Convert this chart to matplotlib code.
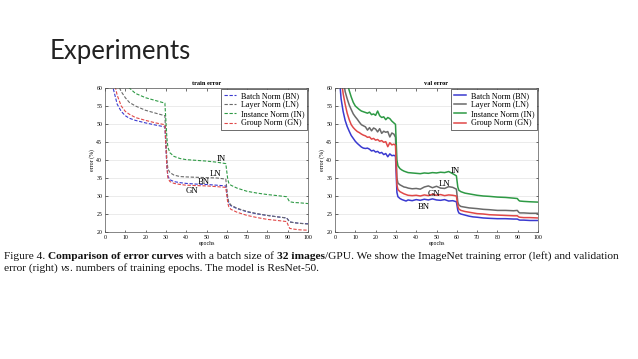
import matplotlib
matplotlib.use("Agg")
import matplotlib.pyplot as plt

# ---- data ----
ep_train = [2, 4, 6, 8, 10, 12, 15, 20, 25, 29.5, 30.5, 31, 32, 34, 37, 40, 45, 50, 55, 59.5,
            60.5, 61, 62, 65, 70, 75, 80, 85, 89.5, 90.5, 91, 93, 96, 100]
bn_train = [68, 60, 55.5, 53.5, 52.3, 51.6, 51, 50.3, 49.7, 49.2, 38, 35.5, 34.5, 34, 33.7, 33.5,
            33.3, 33.2, 33, 32.8, 29, 28, 27.3, 26.5, 25.6, 25, 24.6, 24.2, 23.9, 23.2, 22.8,
            22.6, 22.4, 22.3]
ln_train = [75, 66, 61.5, 59, 57.3, 56, 55, 53.8, 53, 52.3, 40, 37.5, 36.5, 35.8, 35.4, 35.3,
            35.2, 35.1, 35, 34.7, 29.5, 28.3, 27.5, 26.6, 25.7, 25.1, 24.6, 24.2, 23.9, 23.1,
            22.8, 22.6, 22.4, 22.2]
in_train = [80, 72, 67, 63.5, 61.3, 60, 58.5, 57.3, 56.5, 55.8, 46, 43.5, 42, 41, 40.4, 40.1,
            39.9, 39.7, 39.4, 39, 34.5, 33.6, 33, 32.2, 31.3, 30.8, 30.4, 30.1, 29.8, 28.8,
            28.4, 28.2, 28.1, 27.9]
gn_train = [70, 63, 58, 55, 53.5, 52.7, 51.8, 51, 50.3, 49.8, 38, 35, 34, 33.5, 33.2, 33,
            32.9, 32.8, 32.6, 32.4, 28, 27, 26.3, 25.5, 24.6, 24, 23.5, 23.2, 22.9, 21.5, 21,
            20.8, 20.6, 20.5]

ep_val = [1, 2, 3, 4, 5, 6, 7, 8, 9, 10, 11, 12, 13, 14, 15, 16, 17, 18, 19, 20, 21, 22, 23,
          24, 25, 26, 27, 28, 29, 29.8, 30.5, 31, 32, 33, 34, 35, 36, 38, 40, 42, 44, 46, 48,
          50, 52, 54, 56, 58, 59.8, 60.5, 61, 62, 64, 66, 68, 70, 73, 76, 80, 84, 88, 89.8,
          90.5, 91, 93, 96, 100]
bn_val = [75, 64, 57, 53.5, 51, 49.3, 48, 46.8, 46, 45.2, 44.6, 44.1, 43.6, 43.3, 43.2, 43.3,
          43, 42.5, 42.7, 42.2, 42.4, 41.9, 42.1, 41.5, 41.8, 40.9, 41.7, 41.2, 41.3, 41.1,
          31, 29.8, 29.3, 29, 28.8, 28.6, 28.9, 28.7, 29, 28.8, 29.1, 28.9, 29.2, 28.9, 28.8,
          29, 28.6, 28.7, 28.4, 26, 25.3, 25, 24.7, 24.4, 24.2, 24.1, 23.9, 23.8, 23.7, 23.7,
          23.6, 23.6, 23.4, 23.3, 23.3, 23.2, 23.2]
ln_val = [90, 78, 69, 63, 59, 57, 55.3, 54, 52.8, 52, 51.3, 50.5, 49.8, 49.5, 49.2, 48.3, 49,
          48.1, 48.9, 48.6, 47.8, 48.7, 47.4, 48, 47.7, 47.9, 46.4, 47.5, 47.2, 46.3, 35, 33.6,
          33.1, 32.8, 32.5, 32.4, 32.2, 32, 32.1, 31.9, 32.5, 32.8, 32.3, 32.7, 32.2, 32.1,
          32.6, 32.4, 31.9, 28.3, 27.5, 27.1, 26.9, 26.7, 26.6, 26.5, 26.3, 26.2, 26, 26,
          25.9, 26, 25.5, 25.3, 25.3, 25.2, 25.2]
in_val = [95, 85, 77, 70, 65, 61.5, 59.3, 57.5, 56, 55, 54.5, 54, 53.6, 53.4, 53.2, 53, 53.3,
          52.6, 52.8, 52.4, 53.6, 52.3, 51.8, 52, 51.2, 51.8, 51.5, 50.8, 50.3, 49.9, 40, 38.4,
          37.6, 37.2, 36.9, 36.7, 36.5, 36.4, 36.3, 36.2, 36.4, 36.3, 36.5, 36.4, 36.6, 36.5,
          36.8, 36.2, 35.6, 32.5, 31.6, 31.2, 30.8, 30.6, 30.4, 30.2, 30, 29.9, 29.7, 29.6,
          29.4, 29.3, 28.8, 28.6, 28.5, 28.4, 28.3]
gn_val = [85, 72, 63, 58.5, 55.5, 53, 51.2, 49.8, 49, 48.4, 47.9, 47.6, 47.2, 46.9, 46.7, 46.3,
          46.4, 45.8, 46, 45.5, 45.7, 45.2, 45.4, 44.9, 45.1, 43.7, 44.8, 44.2, 44.4, 44.1, 33,
          31.8, 31.2, 30.9, 30.6, 30.4, 30.2, 30.1, 30.2, 30, 30.3, 30.1, 30.5, 30.2, 30.4,
          30.1, 30.3, 30.2, 30, 27.2, 26.4, 26, 25.7, 25.5, 25.3, 25.1, 25, 24.8, 24.7, 24.6,
          24.5, 24.5, 24.2, 24.1, 24, 24, 23.9]

legend_names = ["Batch Norm (BN)", "Layer Norm (LN)", "Instance Norm (IN)", "Group Norm (GN)"]
colors = ["#3a3ad0", "#6a6a6a", "#2e9a45", "#e04848"]
train_tags = {"IN": (57.4, 40.4), "LN": (54.4, 36.2), "BN": (48.4, 33.9), "GN": (42.6, 31.3)}
val_tags = {"IN": (59.2, 36.9), "LN": (54.0, 33.4), "GN": (48.5, 30.6), "BN": (43.6, 27.0)}

serif = "Liberation Serif"

fig = plt.figure(figsize=(6.38, 3.59), dpi=100)
fig.patch.set_facecolor("white")

fig.text(50 / 638, 1 - 52 / 359, "Experiments", fontsize=18.5, family="Lato",
         va="center", ha="left", color="#222222")


def draw_panel(ax, x, series, title, tags, dashed):
    ls = (0, (3, 1.5)) if dashed else "-"
    lw = 0.8 if dashed else 1.1
    for s, name, c in zip(series, legend_names, colors):
        ax.plot(x, s, color=c, lw=lw, ls=ls, label=name)
    ax.set_xlim(0, 100)
    ax.set_ylim(20, 60)
    ax.set_xticks(range(0, 101, 10))
    ax.set_yticks(range(20, 61, 5))
    ax.yaxis.grid(True, color="#e3e3e3", lw=0.5)
    ax.set_axisbelow(True)
    ax.tick_params(labelsize=4.2, length=1.8, width=0.4, pad=2, direction="in",
                   top=True, right=True)
    for lab in ax.get_xticklabels() + ax.get_yticklabels():
        lab.set_family(serif)
    for sp in ax.spines.values():
        sp.set_linewidth(0.5)
        sp.set_color("#555555")
    ax.set_title(title, fontsize=4.6, family=serif, weight="bold", pad=2)
    ax.set_xlabel("epochs", fontsize=4.2, family=serif, labelpad=1)
    ax.set_ylabel("error (%)", fontsize=4.2, family=serif, labelpad=1)
    for k, (tx, ty) in tags.items():
        ax.text(tx, ty, k, fontsize=6.3, family=serif, ha="center", va="center")
    leg = ax.legend(loc="upper right", prop={"family": serif, "size": 5.9},
                    handlelength=1.4, borderpad=0.35, labelspacing=0.15,
                    handletextpad=0.6, fancybox=False, framealpha=1,
                    borderaxespad=0.1)
    leg.get_frame().set_linewidth(0.5)
    leg.get_frame().set_edgecolor("#333333")


ax1 = fig.add_axes([105 / 638, 1 - 232 / 359, 203 / 638, 144 / 359])
draw_panel(ax1, ep_train, [bn_train, ln_train, in_train, gn_train], "train error",
           train_tags, True)
ax2 = fig.add_axes([335 / 638, 1 - 232 / 359, 203 / 638, 144 / 359])
draw_panel(ax2, ep_val, [bn_val, ln_val, in_val, gn_val], "val error", val_tags, False)

# caption with mixed styles
caption = [
    [("Figure 4. ", "normal", "normal"), ("Comparison of error curves", "bold", "normal"),
     (" with a batch size of ", "normal", "normal"), ("32 images", "bold", "normal"),
     ("/GPU. We show the ImageNet training error (left) and validation", "normal", "normal")],
    [("error (right) ", "normal", "normal"), ("vs", "normal", "italic"),
     (". numbers of training epochs. The model is ResNet-50.", "normal", "normal")],
]
fig.canvas.draw()
renderer = fig.canvas.get_renderer()
for row, ypix in zip(caption, [256.5, 268.5]):
    xpos = 4 / 638
    for txt, w, st in row:
        t = fig.text(xpos, 1 - ypix / 359, txt, fontsize=8.2, family=serif, weight=w,
                     style=st, va="center", ha="left", color="#111111")
        bb = t.get_window_extent(renderer)
        xpos += bb.width / fig.bbox.width

fig.savefig("out.png", dpi=100)
